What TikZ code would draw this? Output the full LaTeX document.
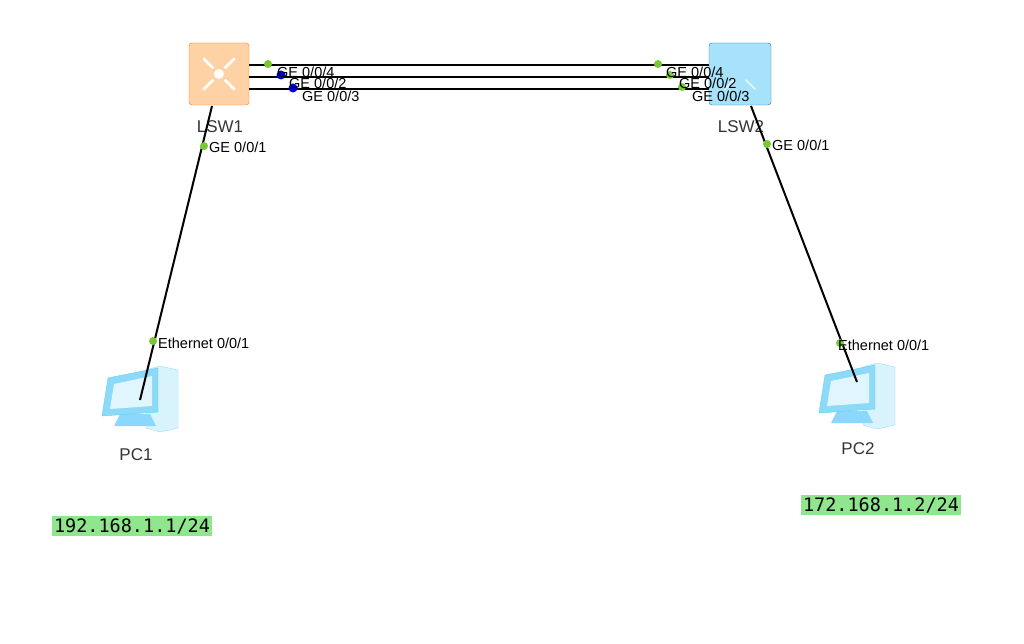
\documentclass[tikz,border=0pt]{standalone}
\usepackage{fontspec}
\setsansfont{Liberation Sans}
\setmonofont{DejaVu Sans Mono}
\definecolor{ipg}{RGB}{144,230,140}
\definecolor{gd}{RGB}{120,200,50}
\begin{document}
\begin{tikzpicture}[x=1pt,y=-1pt,
  lnk/.style={black,line width=2pt},
  gdot/.style={circle,fill=gd,inner sep=0pt,minimum size=8pt},
  bdot/.style={circle,fill=blue!85!black,inner sep=0pt,minimum size=9pt},
  lbl/.style={font=\sffamily\fontsize{14.5}{15}\selectfont,inner sep=0pt,anchor=west},
  devname/.style={font=\sffamily\fontsize{17}{18}\selectfont,text=black!80},
  ip/.style={font=\ttfamily\fontsize{18.5}{20}\selectfont,fill=ipg,inner sep=2pt}]
\useasboundingbox (0,0) rectangle (1024,644);
% switches
\node[draw=orange!70!brown,fill=orange!35,rounded corners=3pt,minimum width=60pt,minimum height=62pt,inner sep=0pt] (s1) at (219,74) {};
\node[draw=cyan!60!blue,fill=cyan!35,rounded corners=3pt,minimum width=62pt,minimum height=62pt,inner sep=0pt] (s2) at (740,74) {};
\foreach \a in {45,135,225,315}{\draw[white,line width=2.5pt] (s1.center) ++(\a:8) -- ++(\a:14);}
\fill[white] (s1.center) circle (5);
\draw[white,line width=1.5pt,opacity=.7] (s2.center) ++(45:8) -- ++(45:14);
\draw[white,line width=1.5pt,opacity=.7] (s2.center) ++(135:8) -- ++(135:14);
\node[devname] (n1) at (220,127) {LSW1};
\node[devname] (n2) at (741,127) {LSW2};
% PCs
\node[minimum width=78pt,minimum height=70pt,inner sep=0pt] (pc1) at (140,396) {};
\node[minimum width=78pt,minimum height=70pt,inner sep=0pt] (pc2) at (857,393) {};
\foreach \p in {pc1,pc2}{
 \begin{scope}[shift={(\p.center)}]
  \fill[cyan!15,draw=cyan!40] (6,-26) -- (20,-30) -- (38,-26) -- (38,32) -- (20,36) -- (6,32) -- cycle;
  \fill[blue!35!cyan!45] (-20,18) -- (10,18) -- (16,30) -- (-26,30) -- cycle;
  \fill[cyan!45,draw=cyan!60] (-32,-18) -- (18,-28) -- (18,16) -- (-38,20) -- cycle;
  \fill[cyan!12] (-26,-12) -- (12,-20) -- (12,10) -- (-30,13) -- cycle;
 \end{scope}
}
\node[devname] (n3) at (136,455) {PC1};
\node[devname] (n4) at (858,449) {PC2};
% links between switches
\coordinate (a4) at (249,65); \coordinate (b4) at (709,65);
\coordinate (a2) at (249,77); \coordinate (b2) at (709,77);
\coordinate (a3) at (249,89); \coordinate (b3) at (709,89);
\draw[lnk] (a4) -- (b4); \draw[lnk] (a2) -- (b2); \draw[lnk] (a3) -- (b3);
\node[gdot] (d1) at (268,64) {};
\node[bdot] (d2) at (281,75) {};
\node[bdot] (d3) at (293,88) {};
\node[gdot] (d4) at (658,64) {};
\node[gdot] (d5) at (670,75) {};
\node[gdot] (d6) at (682,87) {};
\node[lbl] (l1) at (277,72) {GE 0/0/4};
\node[lbl] (l2) at (289,83) {GE 0/0/2};
\node[lbl] (l3) at (302,96) {GE 0/0/3};
\node[lbl] (l4) at (666,72) {GE 0/0/4};
\node[lbl] (l5) at (679,83) {GE 0/0/2};
\node[lbl] (l6) at (692,96) {GE 0/0/3};
% links to PCs
\coordinate (t1) at (212,106); \coordinate (u1) at (140,400);
\coordinate (t2) at (751,106); \coordinate (u2) at (857,382);
\draw[lnk] (t1) -- (u1);
\draw[lnk] (t2) -- (u2);
\node[gdot] (d7) at (204,146) {};
\node[gdot] (d8) at (153,341) {};
\node[gdot] (d9) at (767,144) {};
\node[gdot] (d10) at (840,343) {};
\node[lbl] (l7) at (209,147) {GE 0/0/1};
\node[lbl] (l8) at (158,343) {Ethernet 0/0/1};
\node[lbl] (l9) at (772,145) {GE 0/0/1};
\node[lbl] (l10) at (838,345) {Ethernet 0/0/1};
% IPs
\node[ip] (ip1) at (132,526) {192.168.1.1/24};
\node[ip] (ip2) at (881,505) {172.168.1.2/24};
\end{tikzpicture}
\end{document}
